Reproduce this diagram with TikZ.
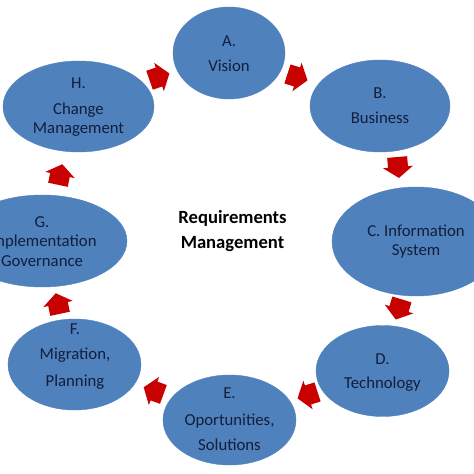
\documentclass[tikz,border=0pt]{standalone}
\usepackage{fontspec}
\setmainfont{Carlito}
\usetikzlibrary{shapes.geometric}
\definecolor{ellblue}{RGB}{79,129,189}
\definecolor{txtnavy}{RGB}{18,30,58}
\definecolor{arrred}{RGB}{200,0,0}
\tikzset{
  ell/.style={ellipse, fill=ellblue, draw=ellblue, line width=0.4pt, inner sep=0pt},
  lbl/.style={align=center, inner sep=0pt, text=txtnavy, font=\fontsize{16.8}{19.5}\selectfont},
  ttl/.style={align=center, inner sep=0pt, text=black, font=\fontsize{18.7}{22}\selectfont\bfseries},
  blockarrow/.pic={\fill[arrred] (-10,-10) -- (0,-10) -- (0,-15) -- (11,0) -- (0,15) -- (0,10) -- (-10,10) -- cycle;}
}
\begin{document}
\begin{tikzpicture}[x=1bp,y=-1bp]
\useasboundingbox (0,0) rectangle (474,474);
\clip (0,0) rectangle (474,474);
\fill[white] (0,0) rectangle (474,474);
% ellipses
\node[ell, minimum width=112bp, minimum height=92bp] (eA) at (229,53) {};
\node[ell, minimum width=140bp, minimum height=92bp] (eB) at (380,106) {};
\node[ell, minimum width=168bp, minimum height=109bp] (eC) at (416,241.5) {};
\node[ell, minimum width=133bp, minimum height=91bp] (eD) at (382.5,371) {};
\node[ell, minimum width=133bp, minimum height=90bp] (eE) at (229.5,420) {};
\node[ell, minimum width=133bp, minimum height=91bp] (eF) at (74.5,364.5) {};
\node[ell, minimum width=170bp, minimum height=92bp] (eG) at (42,241) {};
\node[ell, minimum width=151bp, minimum height=91bp] (eH) at (78.5,106.5) {};
% labels
\node[lbl] (tA) at (229,55) {\strut A.\\[5.5bp]\strut Vision};
\node[lbl] (tB) at (380,107) {\strut B.\\[5.5bp]\strut Business};
\node[lbl] (tC) at (416,242) {\strut C. Information\\\strut System};
\node[lbl] (tD) at (382.5,372.5) {\strut D.\\[4.5bp]\strut Technology};
\node[lbl] (tE) at (229.5,420.5) {\strut E.\\[7.5bp]\strut Oportunities,\\[5.5bp]\strut Solutions};
\node[lbl] (tF) at (75,356.5) {\strut F.\\[5.5bp]\strut Migration,\\[7.5bp]\strut Planning};
\node[lbl] (tG) at (42,243) {\strut G.\\\strut Implementation\\\strut Governance};
\node[lbl] (tH) at (78.5,107) {\strut H.\\[6.5bp]\strut Change\\\strut Management};
\node[ttl] (title) at (232.5,232) {\strut Requirements\\[3bp]\strut Management};
% block arrows (H->A, A->B, ..., G->H)
\pic[rotate=19] (aHA) at (159,77) {blockarrow};
\pic[rotate=-18] (aAB) at (297,77) {blockarrow};
\pic[rotate=-85] (aBC) at (398,167) {blockarrow};
\pic[rotate=-107] (aCD) at (399,309) {blockarrow};
\pic[rotate=-162] (aDE) at (308,395) {blockarrow};
\pic[rotate=160] (aEF) at (154,391) {blockarrow};
\pic[rotate=102] (aFG) at (58,304) {blockarrow};
\pic[rotate=78] (aGH) at (60,175) {blockarrow};
\end{tikzpicture}
\end{document}
